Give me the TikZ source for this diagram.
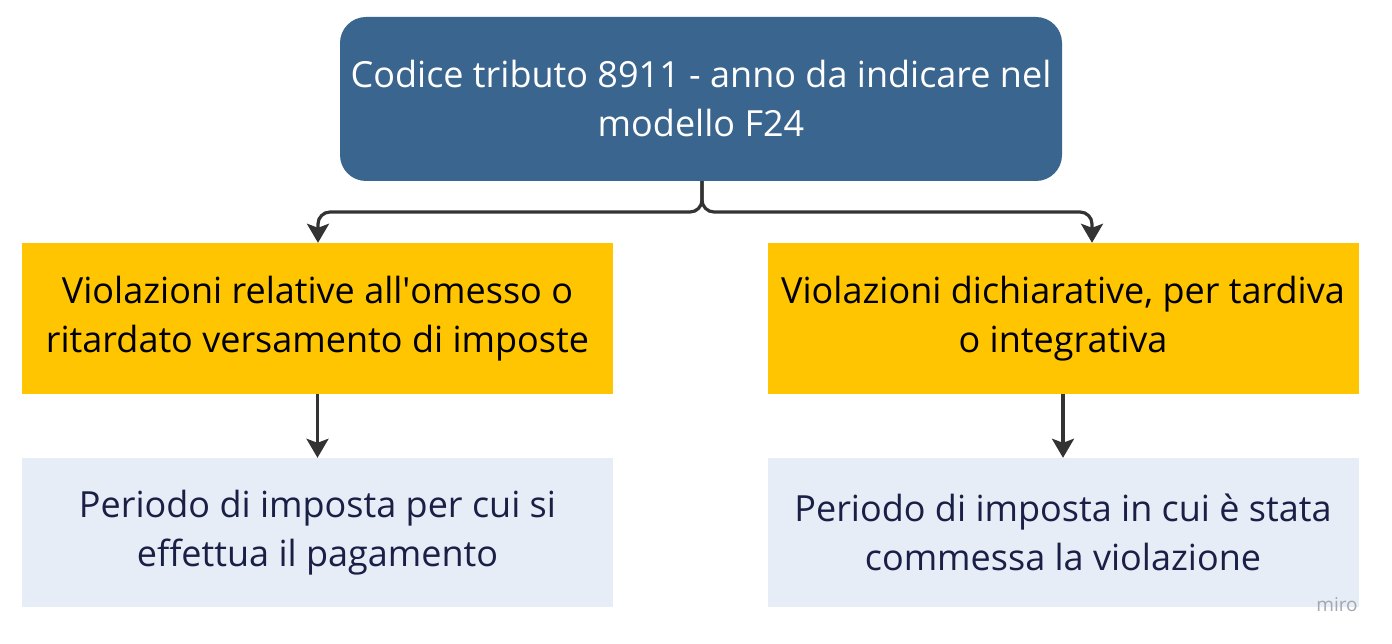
\documentclass[tikz,border=0pt]{standalone}
\usepackage{fontspec}
\setmainfont{Open Sans}
\usetikzlibrary{arrows.meta}
\definecolor{topblue}{HTML}{3A658E}
\definecolor{boxyellow}{HTML}{FEC500}
\definecolor{boxlight}{HTML}{E6EDF6}
\definecolor{navytext}{HTML}{1A1F45}
\definecolor{linegray}{HTML}{333333}
\definecolor{mirogray}{HTML}{A3A7AF}
\begin{document}
\begin{tikzpicture}[x=1pt,y=-1pt,
  topbox/.style={fill=topblue,rounded corners=26pt,text=white,align=center,minimum width=722pt,minimum height=164pt,inner sep=0pt,font=\fontsize{36}{49}\selectfont},
  ybox/.style={fill=boxyellow,text=black,align=center,minimum width=591pt,minimum height=151pt,inner sep=0pt,font=\fontsize{36}{49}\selectfont},
  lbox/.style={fill=boxlight,text=navytext,align=center,minimum width=591pt,minimum height=149pt,inner sep=0pt,font=\fontsize{36}{49}\selectfont},
  conn/.style={draw=linegray,line width=3.2pt,-{Stealth[length=19pt,width=22pt,inset=4pt]}},
]
\useasboundingbox[fill=white] (0,0) rectangle (1392,644);
\node[topbox] (top) at (701,99) {Codice tributo 8911 - anno da indicare nel\\modello F24};
\node[ybox] (y1) at (317.5,318.5) {Violazioni relative all\textquotesingle omesso o\\ritardato versamento di imposte};
\node[ybox] (y2) at (1063,318.5) {Violazioni dichiarative, per tardiva\\o integrativa};
\node[lbox] (l1) at (317.5,532.5) {Periodo di imposta per cui si\\effettua il pagamento};
\node[lbox] (l2) at (1063,532.5) {Periodo di imposta in cui è stata\\commessa la violazione};
\coordinate (j) at (702,212);
\coordinate (jl) at (318,212);
\coordinate (jr) at (1092,212);
\draw[conn,rounded corners=12pt] (top.south -| j) -- (j) -- (jl) -- (jl |- y1.north);
\draw[conn,rounded corners=12pt] (top.south -| j) -- (j) -- (jr) -- (jr |- y2.north);
\draw[conn] (y1.south) -- (l1.north);
\draw[conn] (y2.south) -- (l2.north);
\node[text=mirogray,font=\fontsize{19}{21}\selectfont,inner sep=0pt] (miro) at (1337,605) {miro};
\end{tikzpicture}
\end{document}
